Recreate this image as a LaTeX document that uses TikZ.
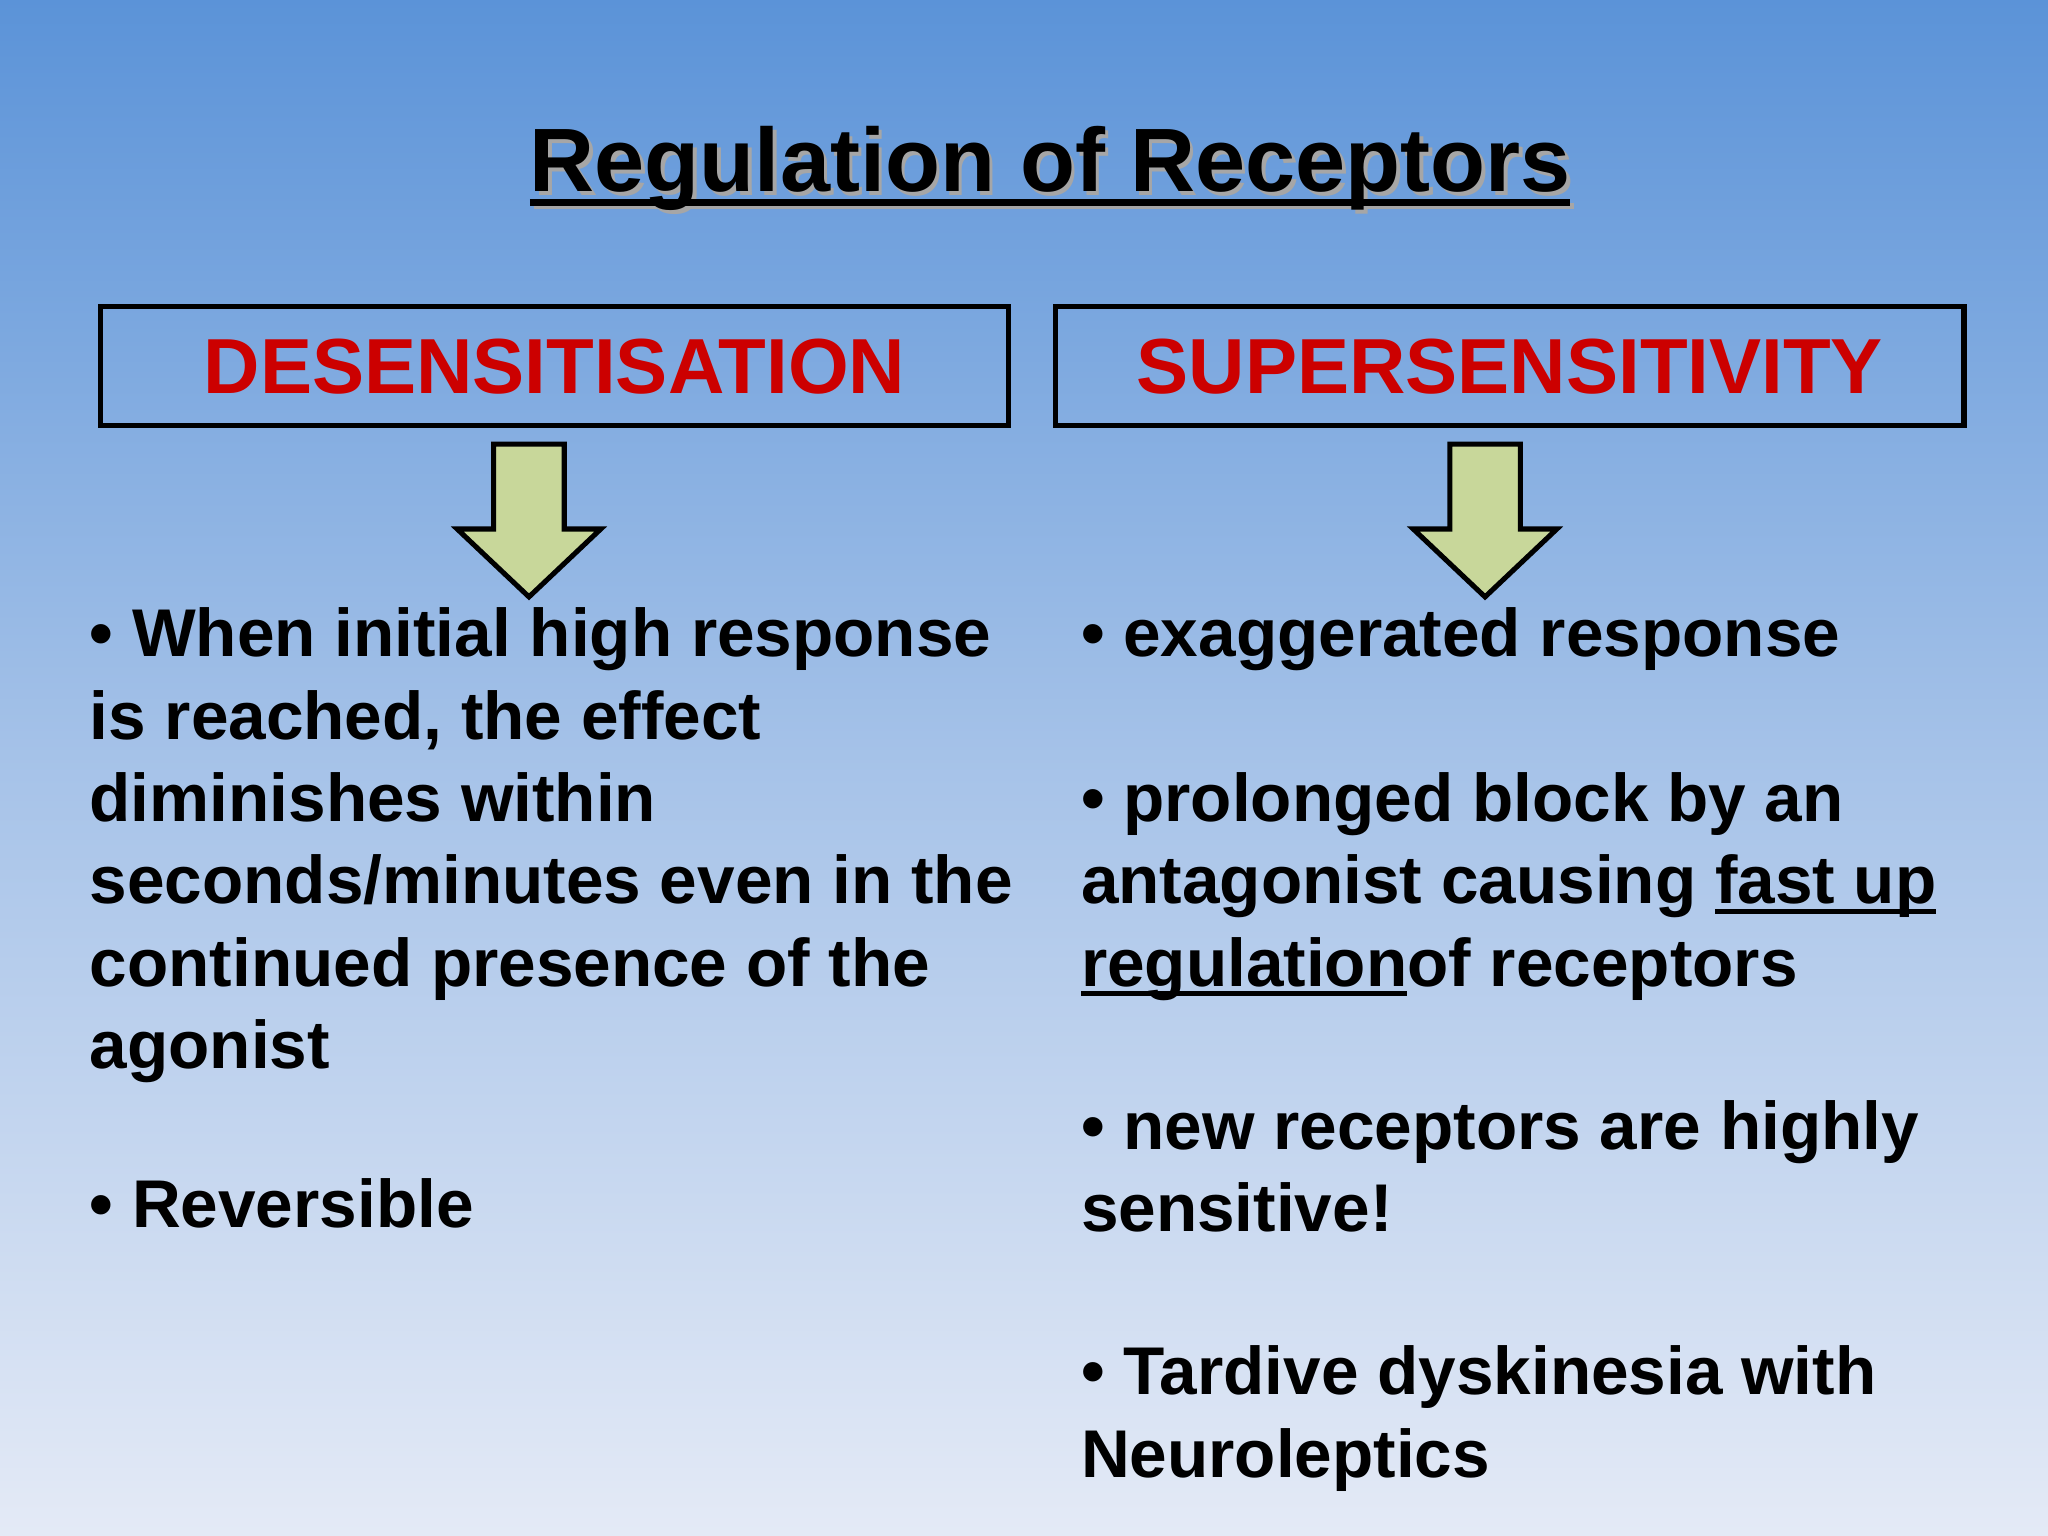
\documentclass[tikz,border=0pt]{standalone}
\usepackage{fontspec}
\setmainfont{Liberation Sans}
\definecolor{bgtop}{HTML}{5B93D8}
\definecolor{bgbot}{HTML}{E4EAF6}
\definecolor{hred}{HTML}{CC0000}
\definecolor{agreen}{HTML}{C8D79A}
\newcommand\thickul[1]{\setbox0\hbox{#1}\rlap{\rule[-0.15em]{\wd0}{0.075em}}\box0}
\begin{document}
\begin{tikzpicture}[x=0.01cm,y=-0.01cm,
  body/.style={anchor=base west,inner sep=0,font=\fontsize{14.7pt}{17.9pt}\selectfont\bfseries},
  head/.style={draw=black,line width=1.1pt,minimum width=6.95cm,minimum height=0.91cm,inner sep=0,text=hred,font=\fontsize{17pt}{20pt}\selectfont\bfseries},
  arr/.style={draw=black,line width=1.1pt,fill=agreen,line join=miter}]
\shade[top color=bgtop,bottom color=bgbot,middle color=bgtop!45!bgbot] (0,0) rectangle (1568,1176);
\useasboundingbox (0,0) rectangle (1568,1176);
\node[anchor=base,inner sep=0,text=black!35,font=\fontsize{19.6pt}{22pt}\selectfont\bfseries] (tsh) at (807,150) {\thickul{Regulation of Receptors}};
\node[anchor=base,inner sep=0,font=\fontsize{19.6pt}{22pt}\selectfont\bfseries] (title) at (804,147) {\thickul{Regulation of Receptors}};
\node[head] (d) at (424.5,280.5) {DESENSITISATION};
\node[head] (s) at (1156,280.5) {SUPERSENSITIVITY};
\draw[arr] (378,340) -- (432,340) -- (432,405) -- (460,405) -- (405,457) -- (350,405) -- (378,405) -- cycle;
\draw[arr] (1110,340) -- (1164,340) -- (1164,405) -- (1192,405) -- (1137,457) -- (1082,405) -- (1110,405) -- cycle;
\node[body] (l1) at (68,503) {• When initial high response};
\node[body] (l2) at (68,566) {is reached, the effect};
\node[body] (l3) at (68,629) {diminishes within};
\node[body] (l4) at (68,692) {seconds/minutes even in the};
\node[body] (l5) at (68,755) {continued presence of the};
\node[body] (l6) at (68,818) {agonist};
\node[body] (l7) at (68,940) {• Reversible};
\node[body] (r1) at (827,503) {• exaggerated response};
\node[body] (r2) at (827,629) {• prolonged block by an};
\node[body] (r3) at (827,692) {antagonist causing \thickul{fast up}};
\node[body] (r4) at (827,755) {\thickul{regulation} of receptors};
\node[body] (r5) at (827,880) {• new receptors are highly};
\node[body] (r6) at (827,943) {sensitive!};
\node[body] (r7) at (827,1068) {• Tardive dyskinesia with};
\node[body] (r8) at (827,1131) {Neuroleptics};
\end{tikzpicture}
\end{document}
